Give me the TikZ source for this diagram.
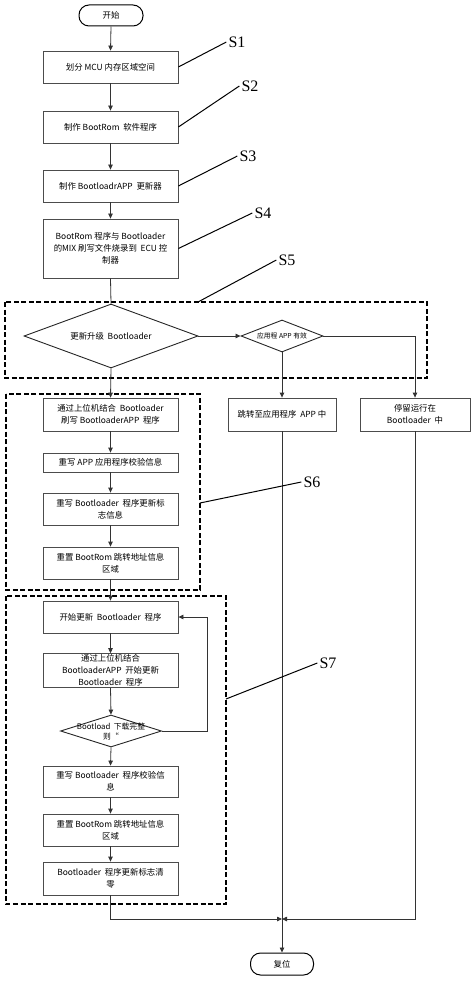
\documentclass[tikz,border=0pt]{standalone}
\usepackage{fontspec}
\setmainfont{Noto Sans CJK SC}
\newfontfamily\slab{Liberation Serif}
\usetikzlibrary{shapes.geometric,arrows.meta}
\begin{document}
\begin{tikzpicture}[x=1pt,y=-1pt,
  box/.style={draw=black!70, line width=0.8pt, rectangle, minimum width=135pt, inner sep=1pt, align=center, font=\fontsize{8.4}{12}\selectfont},
  sbox/.style={box, minimum width=108pt},
  pill/.style={draw=black, line width=1pt, rectangle, rounded corners=10pt, minimum width=64pt, minimum height=21pt, inner sep=1pt, font=\fontsize{8.4}{10}\selectfont},
  dia/.style={draw=black!85, line width=0.9pt, diamond, inner sep=0pt},
  dlab/.style={font=\fontsize{8.4}{11}\selectfont, align=center, inner sep=0pt},
  arr/.style={draw=black!80, line width=0.8pt, -{Triangle[length=5pt,width=4.5pt]}},
  ln/.style={draw=black!80, line width=0.8pt},
  dbox/.style={draw=black, line width=1.3pt, dash pattern=on 5pt off 2.5pt},
  slabel/.style={font=\slab\fontsize{16}{16}\selectfont, inner sep=2pt},
  lead/.style={draw=black, line width=1pt}]
\useasboundingbox (0,0) rectangle (474,981);

% dashed group boxes
\draw[dbox] (5,302) rectangle (427,378);
\draw[dbox] (6,394) rectangle (200,590);
\draw[dbox] (6,596) rectangle (226,904);

% main column
\node[pill] (start) at (111,15.5) {开始};
\node[box, minimum height=32pt] (b1) at (110.5,67) {划分 MCU 内存区域空间};
\node[box, minimum height=32pt] (b2) at (110.5,127) {制作 BootRom \ 软件程序};
\node[box, minimum height=32pt] (b3) at (110.5,186) {制作 BootloadrAPP \ 更新器};
\node[box, minimum height=59pt] (b4) at (110.5,248.5) {BootRom 程序与 Bootloader\\的MIX 刷写文件烧录到 \ ECU 控\\制器};

\node[dia, minimum width=174pt, minimum height=64pt,
  label={[dlab]center:更新升级 \ Bootloader}] (d1) at (111,336) {};
\node[dia, minimum width=82pt, minimum height=32pt,
  label={[dlab, font=\fontsize{6.8}{8}\selectfont]center:应用程 APP 有效}] (d2) at (282,336) {};

\node[sbox, minimum height=33pt] (jump) at (282,414.5) {跳转至应用程序 \ APP 中};
\node[sbox, minimum width=110pt, minimum height=33pt] (stay) at (415,414.5) {停留运行在\\Bootloader \ 中};

% S6 group
\node[box, minimum height=33pt] (c1) at (110.5,414.5) {通过上位机结合 \ Bootloader\\刷写 BootloaderAPP \ 程序};
\node[box, minimum height=19pt] (c2) at (110.5,462.5) {重写 APP 应用程序校验信息};
\node[box, minimum height=32pt] (c3) at (110.5,509) {重写 Bootloader \ 程序更新标\\志信息};
\node[box, minimum height=32pt] (c4) at (110.5,563) {重置 BootRom 跳转地址信息\\区域};

% S7 group
\node[box, minimum height=32pt] (e1) at (110.5,617) {开始更新 \ Bootloader \ 程序};
\node[box, minimum height=33pt] (e2) at (110.5,670.5) {通过上位机结合\\BootloaderAPP \ 开始更新\\Bootloader \ 程序};
\node[dia, minimum width=101pt, minimum height=32pt,
  label={[dlab, font=\fontsize{7.8}{10}\selectfont]center:Bootload \ 下载完整\\则“}] (d3) at (111,731) {};
\node[box, minimum height=31pt] (e3) at (110.5,781.5) {重写 Bootloader \ 程序校验信\\息};
\node[box, minimum height=32pt] (e4) at (110.5,830) {重置 BootRom 跳转地址信息\\区域};
\node[box, minimum height=33pt] (e5) at (110.5,878.5) {Bootloader \ 程序更新标志清\\零};

\node[pill, minimum width=63pt, minimum height=22pt] (reset) at (282,964) {复位};

% connectors
\draw[arr] (start.south) -- (b1.north);
\draw[arr] (b1.south) -- (b2.north);
\draw[arr] (b2.south) -- (b3.north);
\draw[arr] (b3.south) -- (b4.north);
\draw[ln] (b4.south) -- (d1.north);
\draw[arr] (d1.east) -- (d2.west);
\draw[arr] (d2.east) -| (stay.north);
\draw[arr] (d2.south) -- (jump.north);
\draw[arr] (d1.south) -- (c1.north);
\draw[arr] (c1.south) -- (c2.north);
\draw[arr] (c2.south) -- (c3.north);
\draw[arr] (c3.south) -- (c4.north);
\draw[arr] (c4.south) -- (e1.north);
\draw[arr] (e1.south) -- (e2.north);
\draw[arr] (e2.south) -- (d3.north);
\draw[arr] (d3.south) -- (e3.north);
\draw[arr] (e3.south) -- (e4.north);
\draw[arr] (e4.south) -- (e5.north);
\coordinate (loop) at (207,617);
\draw[arr] (d3.east) -| (loop) -- (e1.east);
\coordinate (merge) at (282,919);
\draw[arr] (e5.south) |- (merge);
\draw[arr] (stay.south) |- (merge);
\draw[arr] (jump.south) -- (reset.north);

% step labels
\node[slabel] (s1) at (237,42) {S1};
\node[slabel] (s2) at (250,86) {S2};
\node[slabel] (s3) at (248,156) {S3};
\node[slabel] (s4) at (263,213) {S4};
\node[slabel] (s5) at (287,260) {S5};
\node[slabel] (s6) at (312,482) {S6};
\node[slabel] (s7) at (328,663) {S7};
\coordinate (g5) at (198,302);
\coordinate (g6) at (200,503);
\coordinate (g7) at (226,699);
\draw[lead] (b1.east) -- (s1.west);
\draw[lead] (b2.east) -- (s2.west);
\draw[lead] (b3.east) -- (s3.west);
\draw[lead] (b4.east) -- (s4.west);
\draw[lead] (g5) -- (s5.west);
\draw[lead] (g6) -- (s6.west);
\draw[lead] (g7) -- (s7.west);
\end{tikzpicture}
\end{document}
